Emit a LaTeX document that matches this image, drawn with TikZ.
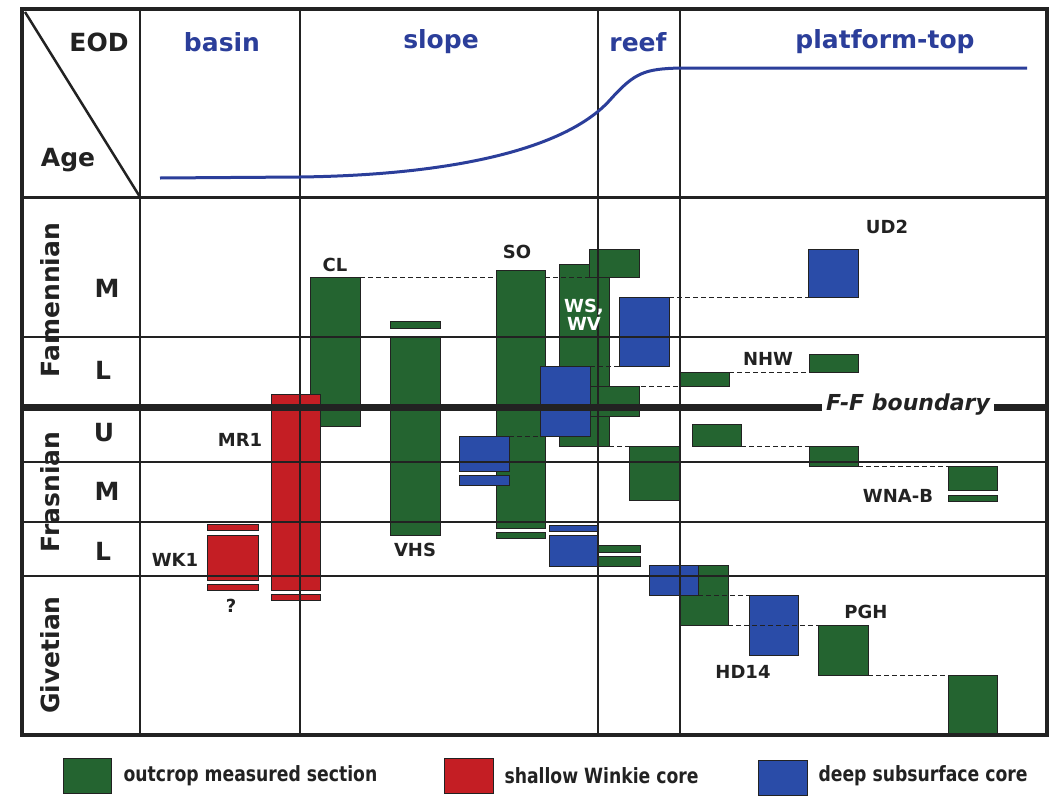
\documentclass[tikz,border=0pt]{standalone}
\usepackage{fontspec}
\setmainfont{DejaVu Sans}
\newfontfamily\legfont[FakeStretch=0.82]{DejaVu Sans}
\definecolor{gr}{HTML}{246430}
\definecolor{rd}{HTML}{C41E24}
\definecolor{bl}{HTML}{2A4CA8}
\definecolor{eod}{HTML}{2B3E9A}
\definecolor{ink}{HTML}{222222}
\begin{document}
\begin{tikzpicture}[x=1pt,y=-1pt,
  g/.style={fill=gr,draw=ink,line width=0.8pt},
  r/.style={fill=rd,draw=ink,line width=0.8pt},
  b/.style={fill=bl,draw=ink,line width=0.8pt},
  dsh/.style={draw=ink,dashed,dash pattern=on 5pt off 3pt,line width=1pt},
  hd/.style={font=\fontsize{25}{25}\selectfont\bfseries,text=eod},
  ax/.style={font=\fontsize{25}{25}\selectfont\bfseries,text=ink},
  lb/.style={font=\fontsize{18}{18}\selectfont\bfseries,text=ink},
  lg/.style={font=\fontsize{21}{21}\legfont\bfseries,text=ink,anchor=west}]
\useasboundingbox (0,0) rectangle (1063,801);
\fill[white] (0,0) rectangle (1063,801);
% boxes
\draw[g] (310,277) rectangle (360,426);
\draw[g] (390,321) rectangle (440,328);
\draw[g] (390,337) rectangle (440,535);
\draw[g] (496,270) rectangle (545,528);
\draw[g] (496,532) rectangle (545,538);
\draw[g] (559,264) rectangle (609,446);
\draw[g] (589,249) rectangle (639,277);
\draw[g] (589,386) rectangle (639,416);
\draw[g] (629,446) rectangle (679,500);
\draw[g] (680,372) rectangle (729,386);
\draw[g] (809,354) rectangle (858,372);
\draw[g] (692,424) rectangle (741,446);
\draw[g] (809,446) rectangle (858,466);
\draw[g] (948,466) rectangle (997,490);
\draw[g] (948,495) rectangle (997,501);
\draw[g] (598,545) rectangle (640,552);
\draw[g] (598,556) rectangle (640,566);
\draw[g] (680,565) rectangle (728,625);
\draw[g] (818,625) rectangle (868,675);
\draw[g] (948,675) rectangle (997,734);
\draw[b] (619,297) rectangle (669,366);
\draw[b] (540,366) rectangle (590,436);
\draw[b] (808,249) rectangle (858,297);
\draw[b] (459,436) rectangle (509,471);
\draw[b] (459,475) rectangle (509,485);
\draw[b] (549,525) rectangle (598,531);
\draw[b] (549,535) rectangle (598,566);
\draw[b] (649,565) rectangle (698,595);
\draw[b] (749,595) rectangle (798,655);
\draw[r] (271,394) rectangle (320,590);
\draw[r] (271,594) rectangle (320,600);
\draw[r] (207,524) rectangle (258,530);
\draw[r] (207,535) rectangle (258,580);
\draw[r] (207,584) rectangle (258,590);
% dashed links
\draw[dsh] (360,277) -- (496,277);
\draw[dsh] (545,277) -- (589,277);
\draw[dsh] (669,297) -- (808,297);
\draw[dsh] (590,366) -- (619,366);
\draw[dsh] (609,386) -- (680,386);
\draw[dsh] (729,372) -- (809,372);
\draw[dsh] (609,446) -- (629,446);
\draw[dsh] (741,446) -- (809,446);
\draw[dsh] (858,466) -- (948,466);
\draw[dsh] (509,436) -- (540,436);
\draw[dsh] (698,595) -- (749,595);
\draw[dsh] (728,625) -- (818,625);
\draw[dsh] (868,675) -- (948,675);
% grid
\draw[ink,line width=1.2pt] (22,337) -- (1047,337) (22,462) -- (1047,462) (22,522) -- (1047,522);
\draw[ink,line width=2pt] (22,576) -- (1047,576);
\draw[ink,line width=2.5pt] (140,9) -- (140,735) (300,9) -- (300,735) (598,9) -- (598,735) (680,9) -- (680,735);
\draw[ink,line width=3pt] (22,197) -- (1047,197);
\draw[ink,line width=2.5pt] (25,12) -- (140,197);
\draw[ink,line width=7pt] (22,407) -- (1047,407);
\draw[ink,line width=4pt] (22,9) rectangle (1047,735);
% EOD curve
\draw[eod,line width=3pt] (160,178) -- (300,177) .. controls (450,175) and (565,150) .. (610,100) .. controls (635,72) and (645,69) .. (680,68) -- (1027,68);
% header text
\node[ax] (eodt) at (99,42) {EOD};
\node[ax] (aget) at (68,160) {Age};
\node[hd] (basin) at (222,42) {basin};
\node[hd] (slope) at (441,42) {slope};
\node[hd] (reef) at (638,42) {reef};
\node[hd] (plat) at (885,42) {platform-top};
% stage labels
\node[ax,rotate=90] (fam) at (50,300) {Famennian};
\node[ax,rotate=90] (fra) at (50,492) {Frasnian};
\node[ax,rotate=90] (giv) at (50,655) {Givetian};
\node[ax] (m1) at (107,288) {M};
\node[ax] (l1) at (103,370) {L};
\node[ax] (u2) at (104,433) {U};
\node[ax] (m2) at (107,491) {M};
\node[ax] (l2) at (103,551) {L};
% F-F
\node[fill=white,inner xsep=4pt,inner ysep=1pt,font=\fontsize{22}{22}\selectfont\bfseries\itshape,text=ink] (ff) at (908,405) {F-F boundary};
% section labels
\node[lb] (cl) at (335,265) {CL};
\node[lb] (vhs) at (415,550) {VHS};
\node[lb] (so) at (517,252) {SO};
\node[lb,text=white,align=center] (ws) at (584,315) {WS,\\WV};
\node[lb] (nhw) at (768,359) {NHW};
\node[lb] (ud2) at (887,227) {UD2};
\node[lb] (mr1) at (240,440) {MR1};
\node[lb] (wk1) at (175,560) {WK1};
\node[lb] (q) at (231,606) {?};
\node[lb] (hd14) at (743,672) {HD14};
\node[lb] (pgh) at (866,612) {PGH};
\node[lb] (wna) at (898,496) {WNA-B};
% legend
\draw[g] (63,758) rectangle (111,793);
\node[lg] (lg1) at (120,776) {outcrop measured section};
\draw[r] (444,758) rectangle (493,793);
\node[lg] (lg2) at (501,776) {shallow Winkie core};
\draw[b] (758,760) rectangle (807,795);
\node[lg] (lg3) at (815,776) {deep subsurface core};
\end{tikzpicture}
\end{document}
